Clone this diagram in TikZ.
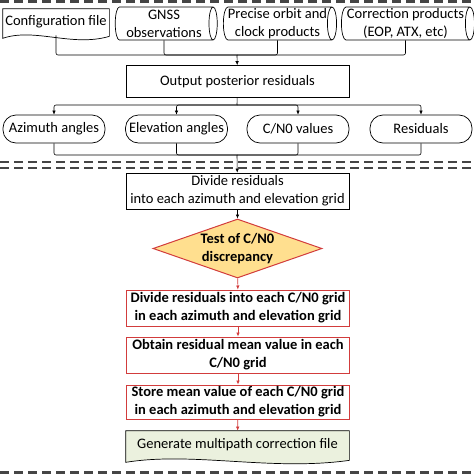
\documentclass[tikz,border=0pt]{standalone}
\usepackage{fontspec}
\setmainfont{Carlito}
\usetikzlibrary{arrows.meta,positioning,shapes.geometric,calc,backgrounds}
\definecolor{rd}{HTML}{D23C3C}
\definecolor{yl}{HTML}{FFDF8F}
\definecolor{gn}{HTML}{EBF1DE}
\definecolor{dg}{HTML}{454545}
% wavy "document" outline round a node, drawn behind it
\newcommand{\docshape}[2]{%
  \begin{scope}[on background layer]
  \draw[line width=0.7pt,fill=#2] (#1.north west) -- (#1.north east) -- ($(#1.south east)+(0,1)$)
   .. controls ($(#1.south east)!0.35!(#1.south west)+(0,12)$) and ($(#1.south west)!0.3!(#1.south east)+(0,-8)$)
   .. ($(#1.south west)+(0,3)$) -- cycle;
  \end{scope}}
\tikzset{
  box/.style={draw,line width=0.7pt,align=center,inner sep=0pt,minimum width=223pt,font=\fontsize{14.5}{18}\selectfont},
  rbox/.style={box,draw=rd,line width=1pt,minimum height=36pt,font=\fontsize{14.5}{18}\selectfont\bfseries},
  pill/.style={box,rounded corners=13pt,minimum width=102pt,minimum height=28pt},
  cyl/.style={box,cylinder,aspect=0.3,minimum width=33pt},
  dia/.style={box,diamond,draw=rd,fill=yl,line width=1pt,aspect=2.86,minimum width=169pt,minimum height=59pt,font=\fontsize{14.5}{18}\selectfont\bfseries},
  ln/.style={line width=0.6pt,rounded corners=2pt},
  ar/.style={ln,-{Latex[length=4pt,width=3.5pt]}},
  rar/.style={ar,draw=rd},
  sep/.style={draw=dg,line width=1.2pt,dash pattern=on 9pt off 5pt},
  bsep/.style={draw=dg,line width=3pt,dash pattern=on 9pt off 5pt},
}
\begin{document}
\begin{tikzpicture}[x=1pt,y=-1pt]
\useasboundingbox (0,0) rectangle (474,474);
% inputs
\node[box,draw=none,minimum width=106pt,minimum height=26pt] (cfg) at (56,22) {Configuration file};
\docshape{cfg}{white}
\node[cyl,minimum height=102pt] (gnss) at (164,23.5) {GNSS\\observations};
\node[cyl,minimum height=111pt] (orb) at (277.5,23.5) {Precise orbit and\\clock products};
\node[cyl,minimum height=133pt] (corr) at (405.5,23.5) {Correction products\\(EOP, ATX, etc)};
\coordinate (j1) at (237,55);
\foreach \n in {cfg,gnss,orb,corr} \draw[ln] (\n.south) |- (j1);
\node[box,minimum height=32pt] (out) at (237.5,81.5) {Output posterior residuals};
\draw[ar] (j1) -- (out);
% observables
\node[pill] (az) at (54,129) {Azimuth angles};
\node[pill] (el) at (176.5,129) {Elevation angles};
\node[pill] (cn) at (298,129) {C/N0 values};
\node[pill] (res) at (421,129) {Residuals};
\coordinate (j2) at (237,105);
\draw[ln] (out) -- (j2);
\foreach \n in {az,el,cn,res} \draw[ar] (j2) -| (\n);
\coordinate (j3) at (237,155);
\foreach \n in {az,el,cn,res} \draw[ln] (\n.south) |- (j3);
% grid processing
\node[box,minimum height=36pt] (div) at (237.5,191) {Divide residuals\\into each azimuth and elevation grid};
\draw[ar] (j3) -- (div);
\draw[sep] (0,162) -- (474,162);
\draw[sep] (0,168) -- (474,168);
\node[dia] (test) at (237.5,248.5) {Test of C/N0\\discrepancy};
\draw[ar] (div) -- (test);
\node[rbox] (r1) at (238,308) {Divide residuals into each C/N0 grid\\in each azimuth and elevation grid};
\node[rbox] (r2) at (238,355) {Obtain residual mean value in each\\C/N0 grid};
\node[rbox,minimum height=34pt] (r3) at (238,402) {Store mean value of each C/N0 grid\\in each azimuth and elevation grid};
\node[box,draw=none,minimum height=28pt] (gen) at (237.5,445) {Generate multipath correction file};
\docshape{gen}{gn}
\draw[rar] (test) -- (r1);
\draw[rar] (r1) -- (r2);
\draw[rar] (r2) -- (r3);
\draw[rar] (r3) -- (gen);
% frame
\draw[bsep] (0,1.5) -- (474,1.5);
\draw[bsep] (0,472.5) -- (474,472.5);
\end{tikzpicture}
\end{document}
